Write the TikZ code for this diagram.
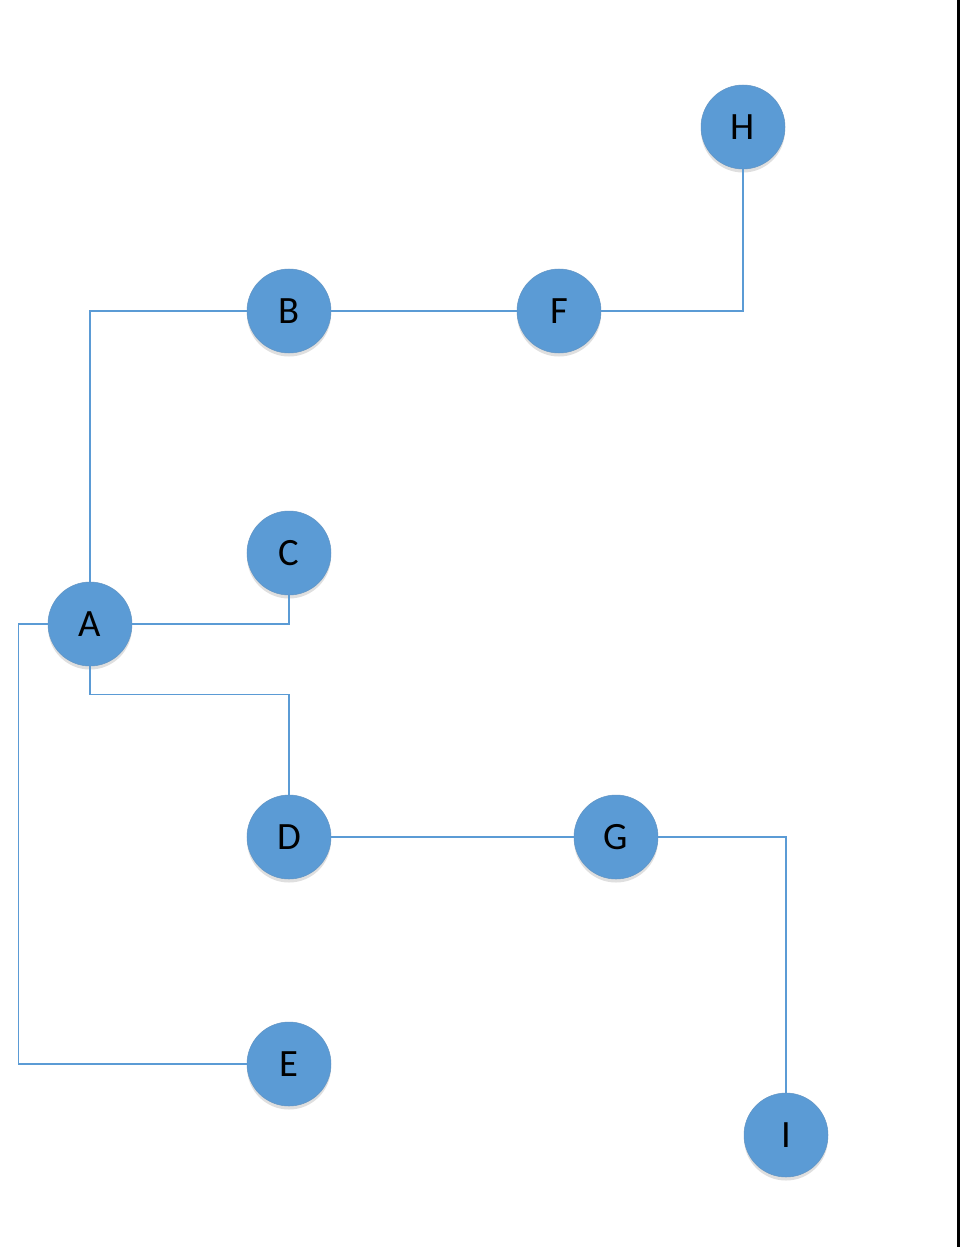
\documentclass[tikz,border=0pt]{standalone}
\usepackage{fontspec}
\setmainfont{Carlito}
\usepackage{tikz}
\usetikzlibrary{shadows}
\definecolor{nodeblue}{HTML}{5B9BD5}

\begin{document}
\begin{tikzpicture}[x=0.02cm,y=-0.02cm,
  vtx/.style={circle,fill=nodeblue,draw=nodeblue!80!gray,line width=0.3pt,minimum size=1.68cm,inner sep=0pt,
    font=\fontsize{22}{26}\selectfont,
    drop shadow={shadow xshift=0pt,shadow yshift=-2pt,opacity=0.25,fill=gray}},
  link/.style={draw=nodeblue,line width=0.7pt}]
\useasboundingbox (0,0) rectangle (960,1247);
\fill[white] (0,0) rectangle (960,1247);
\draw[line width=0.06cm] (958,0)--(958,1247);
% vertices
\node[vtx] (H) at (743,127) {H};
\node[vtx] (B) at (289,311) {B};
\node[vtx] (F) at (559,311) {F};
\node[vtx] (C) at (289,553) {C};
\node[vtx] (A) at (90,624) {A};
\node[vtx] (D) at (289,837) {D};
\node[vtx] (G) at (616,837) {G};
\node[vtx] (E) at (289,1064) {E};
\node[vtx] (I) at (786,1135) {I};
% connectors
\draw[link] (A.north) |- (B.west);
\draw[link] (B.east) -- (F.west);
\draw[link] (F.east) -| (H.south);
\draw[link] (A.east) -| (C.south);
\draw[link] (A.south) -- ++(0,28) -| (D.north);
\draw[link] (A.west) -- ++(-29,0) |- (E.west);
\draw[link] (D.east) -- (G.west);
\draw[link] (G.east) -| (I.north);
\end{tikzpicture}
\end{document}
